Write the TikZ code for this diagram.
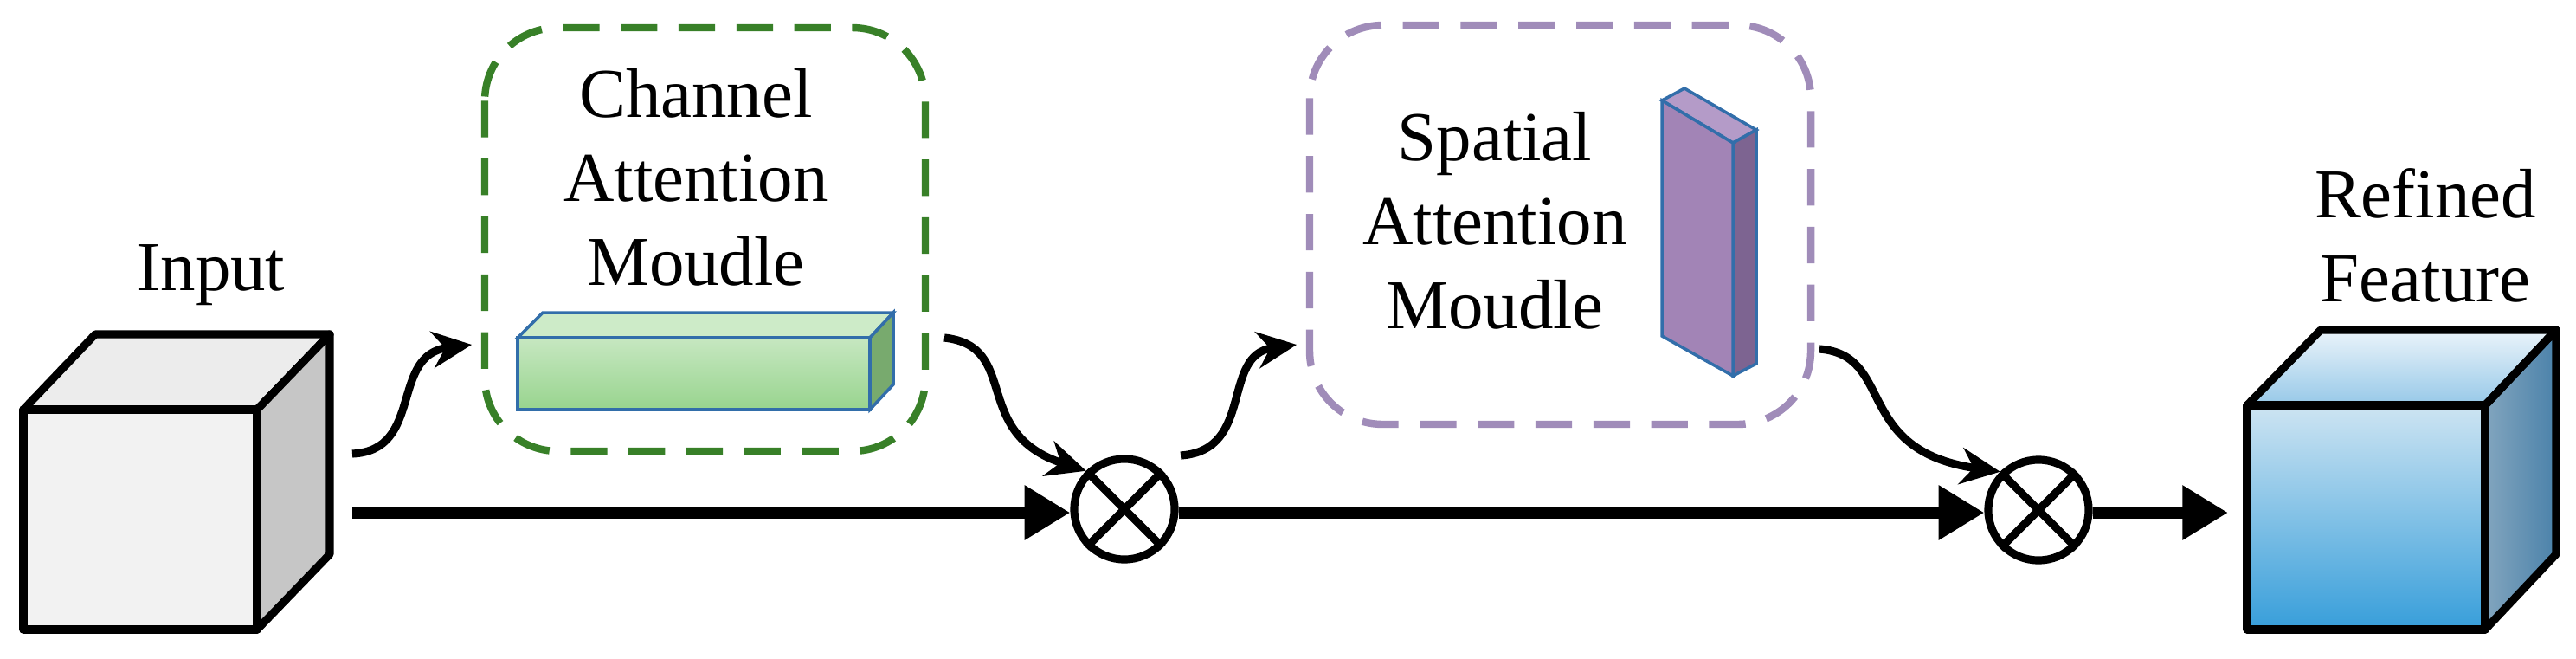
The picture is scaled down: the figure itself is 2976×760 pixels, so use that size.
\documentclass[tikz,border=0pt]{standalone}
\usepackage{fontspec}
\setmainfont{Liberation Serif}
\usetikzlibrary{arrows.meta}
\definecolor{gdash}{RGB}{56,128,40}
\definecolor{pdash}{RGB}{160,140,185}
\definecolor{gfront}{RGB}{152,212,142}
\definecolor{gtop}{RGB}{205,235,200}
\definecolor{gside}{RGB}{120,170,110}
\definecolor{pfront}{RGB}{162,132,182}
\definecolor{ptop}{RGB}{180,155,200}
\definecolor{pside}{RGB}{125,100,145}
\definecolor{bedge}{RGB}{50,110,170}
\definecolor{bfrontT}{RGB}{205,228,242}
\definecolor{bfrontB}{RGB}{55,158,218}
\definecolor{btopT}{RGB}{235,244,250}
\definecolor{btopB}{RGB}{150,200,232}
\definecolor{bsideL}{RGB}{130,165,190}
\definecolor{bsideR}{RGB}{75,130,170}
\tikzset{
 lbl/.style={font=\fontsize{23}{27.5}\selectfont, align=center},
 thickarrow/.style={line width=4.2pt, -{Triangle[length=15pt,width=17pt]}},
 curvearrow/.style={line width=2.6pt, -{Stealth[length=13pt,width=12pt]}},
 cubeline/.style={line width=2.6pt, line join=round},
 dashbox/.style={line width=2.4pt, dash pattern=on 12pt off 7pt, rounded corners=24pt},
 opnode/.style={circle, draw, line width=2.6pt, minimum size=33pt, inner sep=0pt}
}
\begin{document}
\begin{tikzpicture}[x=0.01cm,y=-0.01cm]
\useasboundingbox (0,0) rectangle (2976,760);
% Input cube
\filldraw[cubeline, fill=gray!15] (27,473) -- (110,386) -- (381,386) -- (297,473) -- cycle;
\filldraw[cubeline, fill=gray!45] (297,473) -- (381,386) -- (381,640) -- (297,727) -- cycle;
\filldraw[cubeline, fill=gray!10] (27,473) rectangle (297,727);
\node[lbl] (inlbl) at (244,318) {Input};
\coordinate (inR1) at (407,524);
\coordinate (inR2) at (407,592);
% channel box
\draw[dashbox, gdash] (560,32) rectangle (1069,521);
\node[lbl] (cam) at (804,205) {Channel\\Attention\\Moudle};
\filldraw[draw=bedge, line width=1pt, fill=gtop] (598,390) -- (627,361) -- (1032,361) -- (1005,390) -- cycle;
\filldraw[draw=bedge, line width=1pt, fill=gside] (1005,390) -- (1032,361) -- (1032,444) -- (1005,473) -- cycle;
\shade[top color=gfront!55!white, bottom color=gfront] (598,390) rectangle (1005,473);
\draw[bedge, line width=1pt] (598,390) rectangle (1005,473);
\coordinate (camIn) at (545,398);
\coordinate (camOut) at (1091,390);
% otimes 1
\node[opnode] (m1) at (1299,588) {};
\draw[line width=2.6pt] (m1.north west) -- (m1.south east) (m1.north east) -- (m1.south west);
\coordinate (m1out) at (1364,526);
% spatial box
\draw[dashbox, pdash] (1513,29) rectangle (2092,490);
\node[lbl] (sam) at (1727,255) {Spatial\\Attention\\Moudle};
\filldraw[draw=bedge, line width=1pt, fill=ptop] (1920,116) -- (1946,102) -- (2029,150) -- (2002,165) -- cycle;
\filldraw[draw=bedge, line width=1pt, fill=pside] (2002,165) -- (2029,150) -- (2029,420) -- (2002,434) -- cycle;
\filldraw[draw=bedge, line width=1pt, fill=pfront] (1920,116) -- (2002,165) -- (2002,434) -- (1920,388) -- cycle;
\coordinate (samIn) at (1498,398);
\coordinate (samOut) at (2102,403);
% otimes 2
\node[opnode] (m2) at (2355,589) {};
\draw[line width=2.6pt] (m2.north west) -- (m2.south east) (m2.north east) -- (m2.south west);
% refined cube
\shade[top color=btopT, bottom color=btopB] (2596,468) -- (2681,381) -- (2953,381) -- (2871,468) -- cycle;
\shade[left color=bsideL, right color=bsideR] (2871,468) -- (2953,381) -- (2953,640) -- (2871,727) -- cycle;
\shade[top color=bfrontT, bottom color=bfrontB] (2596,468) rectangle (2871,727);
\draw[cubeline] (2596,468) -- (2681,381) -- (2953,381) -- (2871,468) -- cycle;
\draw[cubeline] (2871,468) -- (2953,381) -- (2953,640) -- (2871,727) -- cycle;
\draw[cubeline] (2596,468) rectangle (2871,727);
\node[lbl] (outlbl) at (2802,272) {Refined\\Feature};
\coordinate (outL) at (2574,592);
% arrows
\draw[thickarrow] (inR2) -- (m1.west |- inR2);
\draw[thickarrow] (m1.east |- inR2) -- (m2.west |- inR2);
\draw[thickarrow] (m2.east |- inR2) -- (outL);
\draw[curvearrow] (inR1) .. controls (490,520) and (450,410) .. (camIn);
\draw[curvearrow] (camOut) .. controls (1180,400) and (1120,500) .. (m1.north west);
\draw[curvearrow] (m1out) .. controls (1450,520) and (1410,410) .. (samIn);
\draw[curvearrow] (samOut) .. controls (2190,410) and (2140,520) .. (m2.north west);
\end{tikzpicture}
\end{document}
